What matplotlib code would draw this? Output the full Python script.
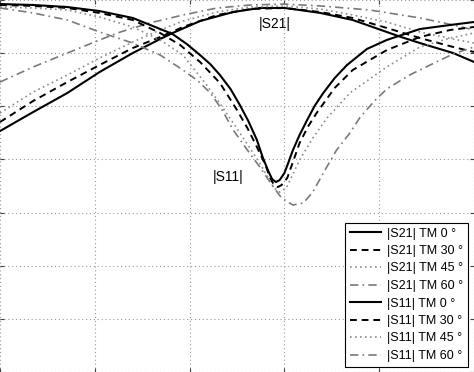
import matplotlib
matplotlib.use("Agg")
import matplotlib.pyplot as plt

plt.rcParams['font.family'] = ['Liberation Sans', 'DejaVu Sans']

# ---- data (frequency in GHz, magnitude in dB) ----
f_s11_0 = [8.00, 8.35, 8.71, 9.05, 9.40, 9.69, 9.82, 9.97, 10.11, 10.22, 10.32, 10.43, 10.53, 10.62, 10.71, 10.77, 10.83, 10.87, 10.91, 10.95, 11.00, 11.04, 11.09, 11.16, 11.24, 11.32, 11.41, 11.53, 11.66, 11.87, 12.08, 12.43, 12.75, 13.00]
s11_0 = [-0.38, -0.47, -0.66, -1.04, -1.69, -2.73, -3.20, -4.14, -5.18, -6.05, -7.06, -8.35, -9.88, -11.40, -13.17, -14.77, -16.09, -16.84, -17.13, -16.94, -16.28, -15.34, -14.12, -12.70, -11.29, -9.95, -8.75, -7.35, -6.12, -4.61, -3.76, -2.73, -2.35, -2.07]

f_s21_0 = [8.00, 8.35, 8.71, 9.05, 9.40, 9.69, 9.82, 10.11, 10.46, 10.74, 11.00, 11.16, 11.38, 11.72, 12.08, 12.23, 12.43, 12.78, 13.00]
s21_0 = [-12.33, -10.54, -8.75, -6.78, -4.99, -3.67, -3.11, -1.98, -1.13, -0.75, -0.75, -0.94, -1.22, -1.88, -3.01, -3.48, -4.05, -4.99, -5.83]

f_s11_30 = [8.00, 8.35, 8.71, 9.05, 9.40, 9.69, 9.90, 10.11, 10.32, 10.50, 10.61, 10.71, 10.80, 10.85, 10.89, 10.93, 10.97, 11.03, 11.09, 11.16, 11.25, 11.34, 11.53, 11.72, 12.08, 12.43, 12.75, 13.00]
s11_30 = [-0.47, -0.56, -0.75, -1.22, -1.88, -3.11, -4.23, -5.83, -7.81, -10.35, -12.05, -13.83, -15.53, -16.75, -17.41, -17.60, -17.41, -16.75, -15.24, -13.46, -11.90, -10.63, -8.28, -6.59, -4.71, -3.48, -2.82, -2.54]

f_s21_30 = [8.00, 8.35, 8.71, 9.05, 9.40, 9.69, 9.93, 10.29, 10.64, 11.00, 11.38, 11.72, 12.08, 12.43, 12.78, 13.00]
s21_30 = [-11.48, -9.50, -7.72, -6.12, -4.52, -3.48, -2.54, -1.41, -0.85, -0.75, -1.13, -1.69, -2.63, -3.58, -4.42, -4.89]

f_s11_45 = [8.00, 8.35, 8.71, 9.05, 9.40, 9.69, 9.93, 10.18, 10.32, 10.46, 10.60, 10.74, 10.83, 10.89, 10.95, 11.02, 11.08, 11.16, 11.30, 11.45, 11.69, 12.08, 12.43, 12.75, 13.00]
s11_45 = [-0.66, -0.75, -0.94, -1.60, -2.54, -3.76, -5.18, -8.00, -9.75, -11.57, -13.45, -15.34, -16.75, -17.69, -18.07, -17.69, -16.56, -15.06, -12.99, -11.10, -8.75, -6.30, -4.42, -3.58, -3.11]

f_s21_45 = [8.00, 8.35, 8.71, 9.05, 9.40, 9.69, 9.93, 10.29, 10.64, 11.00, 11.38, 11.72, 12.08, 12.43, 12.78, 13.00]
s21_45 = [-10.63, -8.66, -7.06, -5.46, -3.95, -2.82, -1.98, -1.13, -0.66, -0.56, -0.85, -1.41, -2.07, -3.01, -3.67, -4.05]

f_s11_60 = [8.00, 8.35, 8.71, 9.05, 9.40, 9.69, 9.93, 10.08, 10.22, 10.34, 10.46, 10.60, 10.74, 10.87, 10.97, 11.09, 11.20, 11.30, 11.41, 11.55, 11.69, 11.80, 11.95, 12.08, 12.32, 12.58, 12.78, 13.00]
s11_60 = [-0.75, -1.22, -1.88, -3.01, -4.05, -5.18, -6.59, -7.55, -8.75, -10.30, -12.23, -14.00, -15.71, -17.41, -18.63, -19.29, -19.10, -18.07, -16.28, -14.12, -12.52, -11.01, -9.50, -8.37, -7.06, -5.93, -5.08, -4.42]

f_s21_60 = [8.00, 8.35, 8.71, 9.05, 9.27, 9.58, 9.93, 10.29, 10.64, 10.99, 11.38, 11.90, 12.43, 12.78, 13.00]
s21_60 = [-7.72, -6.30, -4.99, -3.76, -3.01, -2.16, -1.41, -0.75, -0.47, -0.38, -0.56, -0.94, -1.69, -2.35, -2.82]

labels = ['|S21| TM 0 °', '|S21| TM 30 °', '|S21| TM 45 °', '|S21| TM 60 °',
          '|S11| TM 0 °', '|S11| TM 30 °', '|S11| TM 45 °', '|S11| TM 60 °']

# ---- styles ----
sty = [
    dict(color='black', linestyle='-', lw=1.5),
    dict(color='black', linestyle=(0, (3.5, 2.5)), lw=1.4),
    dict(color='#8c8c8c', linestyle=(0, (1, 2)), lw=1.2),
    dict(color='#7a7a7a', linestyle=(0, (5, 2.5, 1, 2.5)), lw=1.2),
]

fig = plt.figure(figsize=(4.74, 3.72), dpi=100)
ax = fig.add_axes([0, 0, 1, 1])

series21 = [(f_s21_0, s21_0), (f_s21_30, s21_30), (f_s21_45, s21_45), (f_s21_60, s21_60)]
series11 = [(f_s11_0, s11_0), (f_s11_30, s11_30), (f_s11_45, s11_45), (f_s11_60, s11_60)]

for i, (f, s) in enumerate(series21):
    ax.plot(f, s, label=labels[i], **sty[i])
for i, (f, s) in enumerate(series11):
    ax.plot(f, s, label=labels[4 + i], **sty[i])

ax.set_xlim(8, 13)
ax.set_ylim(-35, 0)
ax.set_xticks([8, 9, 10, 11, 12, 13])
ax.set_yticks([-35, -30, -25, -20, -15, -10, -5, 0])
ax.tick_params(direction='in', length=3, width=0.8, color='#444444',
               top=True, right=True, labelbottom=False, labelleft=False)
ax.grid(True, linestyle=(0, (1, 2.5)), color='#9a9a9a', lw=0.8)
for sp in ax.spines.values():
    sp.set_visible(False)

ax.text(10.90, -2.3, '|S21|', fontsize=10, ha='center', va='center')
ax.text(10.41, -16.66, '|S11|', fontsize=10, ha='center', va='center')

leg = ax.legend(loc='lower right', bbox_to_anchor=(468 / 474, 5 / 372),
                borderaxespad=0, fontsize=9, frameon=True, fancybox=False,
                handlelength=2.5, handletextpad=0.45, labelspacing=0.44,
                borderpad=0.4, framealpha=1)
leg.get_frame().set_edgecolor('black')
leg.get_frame().set_linewidth(0.8)

fig.savefig('out.png', dpi=100)
